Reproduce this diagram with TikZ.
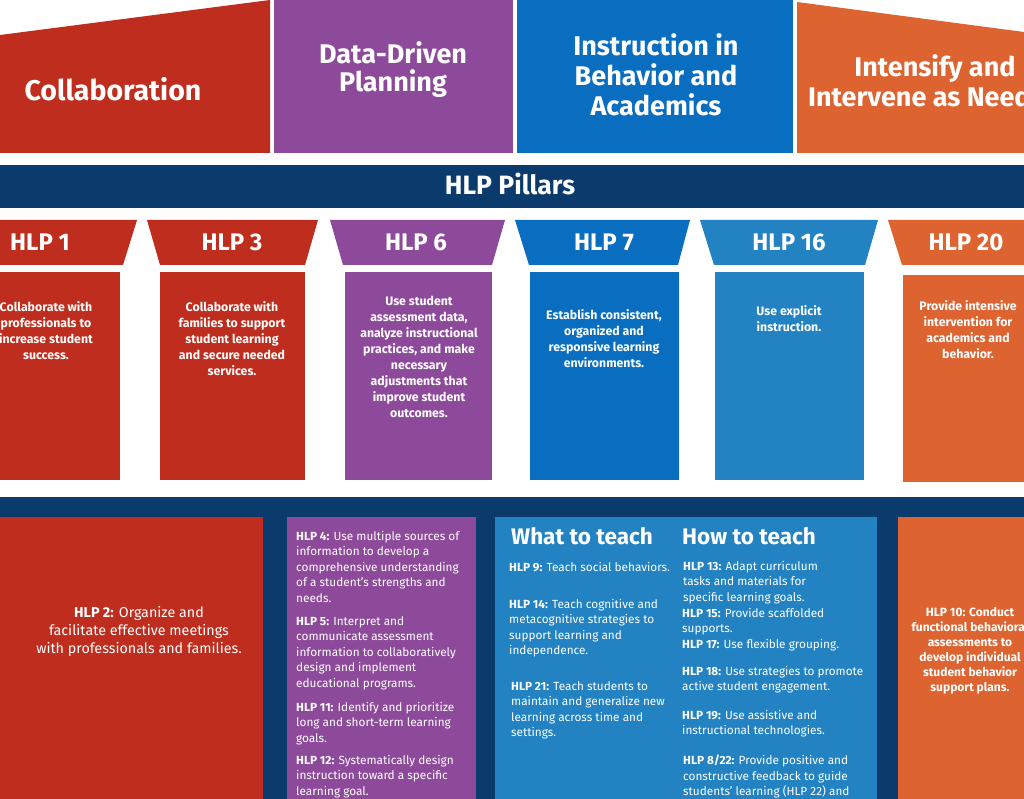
\documentclass[tikz,border=0pt]{standalone}
\usepackage{fontspec}
\setmainfont{Fira Sans}
\begin{document}
\begin{tikzpicture}[x=1pt,y=-1pt,
  txt/.style={text=white,font=\bfseries,align=center,inner sep=0pt},
  col/.style={text=white,font=\fontsize{11.8}{15.5}\selectfont,align=left,inner sep=0pt,anchor=north west},
  pill/.style={text=white,font=\bfseries\fontsize{12.3}{16}\selectfont,align=center,inner sep=0pt}]
\definecolor{cred}{HTML}{BE2D1E}
\definecolor{cpur}{HTML}{8E4A9A}
\definecolor{cblu}{HTML}{0A6EC0}
\definecolor{clb}{HTML}{2282C2}
\definecolor{cor}{HTML}{DD6430}
\definecolor{cnav}{HTML}{0B3A6C}
\useasboundingbox (0,0) rectangle (1024,799);
\clip (0,0) rectangle (1024,799);
\fill[white] (0,0) rectangle (1024,799);
% roof
\fill[cred] (0,35) -- (270,0) -- (270,153) -- (0,153) -- cycle;
\fill[cpur] (274,0) rectangle (513,153);
\fill[cblu] (517,0) -- (793,0) -- (793,153) -- (517,153) -- cycle;
\fill[cor] (797,2) -- (1024,32) -- (1024,153) -- (797,153) -- cycle;
\node[txt,font=\bfseries\fontsize{28.5}{30}\selectfont] (r1) at (113,89) {Collaboration};
\node[txt,font=\bfseries\fontsize{27}{28}\selectfont] (r2) at (393,70) {Data-Driven\\Planning};
\node[txt,font=\bfseries\fontsize{27}{30}\selectfont] (r3) at (656,75) {Instruction in\\Behavior and\\Academics};
\node[txt,font=\bfseries\fontsize{27}{30}\selectfont] (r4) at (935,81) {Intensify and\\Intervene as Needed};
% band
\fill[cnav] (0,165) rectangle (1024,208);
\node[txt,font=\bfseries\fontsize{26.5}{28}\selectfont] (band) at (510,184) {HLP Pillars};
% trapezoids
\fill[cred] (-20,220) -- (137,220) -- (123,265) -- (-5,265) -- cycle;
\fill[cred] (147,220) -- (318,220) -- (305,265) -- (160,265) -- cycle;
\fill[cpur] (330,220) -- (505,220) -- (492,265) -- (343,265) -- cycle;
\fill[cblu] (515,220) -- (690,220) -- (678,265) -- (529,265) -- cycle;
\fill[clb] (700,220) -- (878,220) -- (865,265) -- (714,265) -- cycle;
\fill[cor] (888,220) -- (1040,220) -- (1040,265) -- (902,265) -- cycle;
\foreach \n/\x/\t in {h1/40/HLP 1,h3/232/HLP 3,h6/416/HLP 6,h7/604/HLP 7,h16/789/HLP 16,h20/966/HLP 20}
  \node[txt,font=\bfseries\fontsize{24}{26}\selectfont] (\n) at (\x,242) {\t};
% pillars
\fill[cred] (-5,272) rectangle (120,480);
\fill[cred] (160,272) rectangle (305,480);
\fill[cpur] (345,272) rectangle (492,480);
\fill[cblu] (530,272) rectangle (679,480);
\fill[clb] (715,272) rectangle (864,480);
\fill[cor] (903,275) rectangle (1040,482);
\node[pill,anchor=north] (p1) at (46,301) {Collaborate with\\professionals to\\increase student\\success.};
\node[pill,anchor=north] (p3) at (232,301) {Collaborate with\\families to support\\student learning\\and secure needed\\services.};
\node[pill,anchor=north] (p6) at (419,296) {Use student\\assessment data,\\analyze instructional\\practices, and make\\necessary\\adjustments that\\improve student\\outcomes.};
\node[pill,anchor=north] (p7) at (604,309) {Establish consistent,\\organized and\\responsive learning\\environments.};
\node[pill,anchor=north] (p16) at (789,305) {Use explicit\\instruction.};
\node[pill,anchor=north] (p20) at (968,300) {Provide intensive\\intervention for\\academics and\\behavior.};
% bottom
\fill[cnav] (0,497) rectangle (1024,799);
\fill[cred] (-5,517) rectangle (263,805);
\fill[cpur] (287,517) rectangle (476,805);
\fill[clb] (495,517) rectangle (877,805);
\fill[cor] (898,517) rectangle (1040,805);
\node[txt,font=\fontsize{14.3}{18}\selectfont] (b2) at (139,631) {\textbf{HLP 2:} Organize and\\facilitate effective meetings\\with professionals and families.};
\node[col] (b4) at (296,531) {\textbf{HLP 4:} Use multiple sources of\\information to develop a\\comprehensive understanding\\of a student's strengths and\\needs.};
\node[col] (b5) at (296,616) {\textbf{HLP 5:} Interpret and\\communicate assessment\\information to collaboratively\\design and implement\\educational programs.};
\node[col] (b11) at (296,702) {\textbf{HLP 11:} Identify and prioritize\\long and short-term learning\\goals.};
\node[col] (b12) at (296,755) {\textbf{HLP 12:} Systematically design\\instruction toward a specific\\learning goal.};
\node[txt,font=\bfseries\fontsize{22.5}{24}\selectfont,anchor=north west] (w) at (511,527) {What to teach};
\node[txt,font=\bfseries\fontsize{22.5}{24}\selectfont,anchor=north west] (h) at (682,527) {How to teach};
\node[col] (b9) at (509,562) {\textbf{HLP 9:} Teach social behaviors.};
\node[col] (b14) at (509,599) {\textbf{HLP 14:} Teach cognitive and\\metacognitive strategies to\\support learning and\\independence.};
\node[col] (b21) at (511,681) {\textbf{HLP 21:} Teach students to\\maintain and generalize new\\learning across time and\\settings.};
\node[col] (b13) at (683,561) {\textbf{HLP 13:} Adapt curriculum\\tasks and materials for\\specific learning goals.};
\node[col] (b15) at (682,608) {\textbf{HLP 15:} Provide scaffolded\\supports.};
\node[col] (b17) at (682,639) {\textbf{HLP 17:} Use flexible grouping.};
\node[col] (b18) at (682,666) {\textbf{HLP 18:} Use strategies to promote\\active student engagement.};
\node[col] (b19) at (682,710) {\textbf{HLP 19:} Use assistive and\\instructional technologies.};
\node[col] (b8) at (683,755) {\textbf{HLP 8/22:} Provide positive and\\constructive feedback to guide\\students' learning (HLP 22) and\\behavior (HLP 8).};
\node[pill,font=\bfseries\fontsize{12}{15}\selectfont] (b10) at (970,651) {HLP 10: Conduct\\functional behavioral\\assessments to\\develop individual\\student behavior\\support plans.};
\end{tikzpicture}
\end{document}
